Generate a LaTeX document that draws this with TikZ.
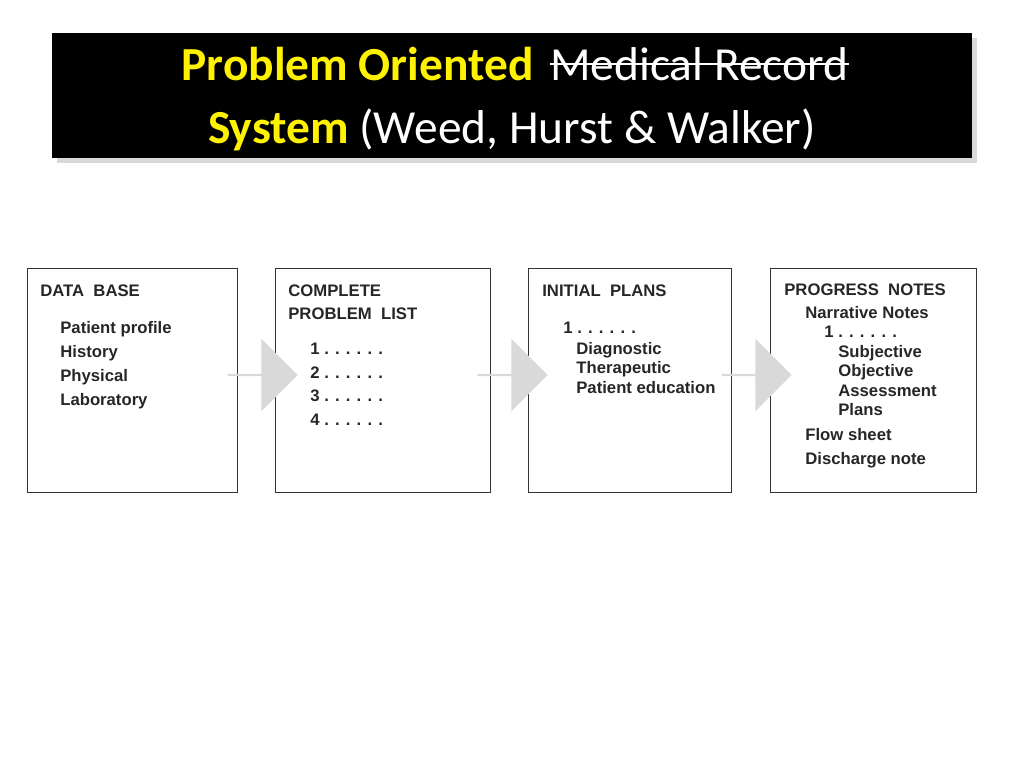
\documentclass[tikz,border=0pt]{standalone}
\usepackage{fontspec}
\setmainfont{Liberation Sans}
\newfontfamily\titlefont{Carlito}
\usetikzlibrary{positioning,shapes.arrows,shadows}
\begin{document}
\begin{tikzpicture}[x=0.02cm,y=-0.02cm,
  stage/.style={draw=black!80,thick,minimum width=#1,minimum height=4.48cm,anchor=north west},
  flow/.style={single arrow,fill=black!15,minimum height=1.4cm,minimum width=1.45cm,
    single arrow head extend=0.22cm,inner sep=0pt},
  txt/.style={anchor=north west,align=left,font=\fontsize{9.5}{#1}\selectfont\bfseries,text=black!85,inner sep=0pt},
  txt/.default=11.5pt]
  \useasboundingbox (0,0) rectangle (1024,768);
  % title
  \node[fill=black,minimum width=18.4cm,minimum height=2.5cm,anchor=north west,
    drop shadow={opacity=0.3}] (title) at (52,33) {};
  \node[font=\titlefont\fontsize{27}{32}\selectfont,align=center,text=white] (tline1) at (512,64)
    {\textcolor{yellow}{\textbf{Problem Oriented}} \phantom{Medical Record}};
  \node[font=\titlefont\fontsize{27}{32}\selectfont,text=white,anchor=east,inner sep=0pt] (strike)
    at (tline1.east) {Medical Record};
  \draw[white,line width=1.4pt] (strike.west) -- (strike.east);
  \node[font=\titlefont\fontsize{27}{32}\selectfont,text=white] (tline2) at (512,130)
    {\textcolor{yellow}{\textbf{System}} (Weed, Hurst \& Walker)};
  % stages
  \node[stage=4.2cm] (base) at (27,268) {};
  \node[stage=4.3cm] (list) at (275,268) {};
  \node[stage=4.06cm] (plans) at (528,268) {};
  \node[stage=4.12cm] (notes) at (770,268) {};
  \node[flow] (a1) at (262,375) {};
  \node[flow] (a2) at (512,375) {};
  \node[flow] (a3) at (756,375) {};
  % texts
  \node[txt] (t1) at (40,284) {DATA\ \ BASE};
  \node[txt=13.6pt] (t1b) at (60,321) {Patient profile\\History\\Physical\\Laboratory};
  \node[txt=13.2pt] (t2) at (288,284) {COMPLETE\\PROBLEM\ \ LIST};
  \node[txt=13.4pt] (t2b) at (310,343) {1 . . . . . .\\2 . . . . . .\\3 . . . . . .\\4 . . . . . .};
  \node[txt] (t3) at (542,284) {INITIAL\ \ PLANS};
  \node[txt] (t3a) at (563,322) {1 . . . . . .};
  \node[txt=11pt] (t3b) at (576,342) {Diagnostic\\Therapeutic\\Patient education};
  \node[txt] (t4) at (784,283) {PROGRESS\ \ NOTES};
  \node[txt] (t4a) at (805,306) {Narrative Notes};
  \node[txt] (t4b) at (824,326) {1 . . . . . .};
  \node[txt=11pt] (t4c) at (838,345) {Subjective\\Objective\\Assessment\\Plans};
  \node[txt=13.5pt] (t4d) at (805,428) {Flow sheet\\Discharge note};
\end{tikzpicture}
\end{document}
